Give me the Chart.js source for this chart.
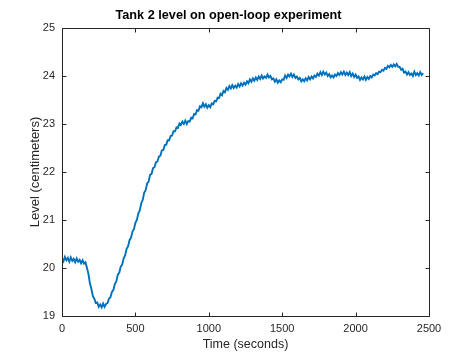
<!DOCTYPE html>
<html>
<head>
<meta charset="utf-8">
<script src="https://cdn.jsdelivr.net/npm/chart.js@4/dist/chart.umd.min.js"></script>
<style>
  html, body { margin: 0; padding: 0; background: #fff; }
  #wrap { width: 474px; height: 355px; position: relative; }
</style>
</head>
<body>
<div id="wrap"><canvas id="c" width="474" height="355"></canvas></div>
<script>
// ---- Data ----
const chartTitle = 'Tank 2 level on open-loop experiment';
const xAxisLabel = 'Time (seconds)';
const yAxisLabel = 'Level (centimeters)';

const timeSeconds = [
  0, 10, 20, 30, 40, 50, 60, 70, 80, 90, 100, 110, 120, 130, 140, 150, 160, 170, 180, 190,
  200, 210, 220, 230, 240, 250, 260, 270, 280, 290, 300, 310, 320, 330, 340, 350, 360, 370, 380, 390,
  400, 410, 420, 430, 440, 450, 460, 470, 480, 490, 500, 510, 520, 530, 540, 550, 560, 570, 580, 590,
  600, 610, 620, 630, 640, 650, 660, 670, 680, 690, 700, 710, 720, 730, 740, 750, 760, 770, 780, 790,
  800, 810, 820, 830, 840, 850, 860, 870, 880, 890, 900, 910, 920, 930, 940, 950, 960, 970, 980, 990,
  1000, 1010, 1020, 1030, 1040, 1050, 1060, 1070, 1080, 1090, 1100, 1110, 1120, 1130, 1140, 1150, 1160, 1170, 1180, 1190,
  1200, 1210, 1220, 1230, 1240, 1250, 1260, 1270, 1280, 1290, 1300, 1310, 1320, 1330, 1340, 1350, 1360, 1370, 1380, 1390,
  1400, 1410, 1420, 1430, 1440, 1450, 1460, 1470, 1480, 1490, 1500, 1510, 1520, 1530, 1540, 1550, 1560, 1570, 1580, 1590,
  1600, 1610, 1620, 1630, 1640, 1650, 1660, 1670, 1680, 1690, 1700, 1710, 1720, 1730, 1740, 1750, 1760, 1770, 1780, 1790,
  1800, 1810, 1820, 1830, 1840, 1850, 1860, 1870, 1880, 1890, 1900, 1910, 1920, 1930, 1940, 1950, 1960, 1970, 1980, 1990,
  2000, 2010, 2020, 2030, 2040, 2050, 2060, 2070, 2080, 2090, 2100, 2110, 2120, 2130, 2140, 2150, 2160, 2170, 2180, 2190,
  2200, 2210, 2220, 2230, 2240, 2250, 2260, 2270, 2280, 2290, 2300, 2310, 2320, 2330, 2340, 2350, 2360, 2370, 2380, 2390,
  2400, 2410, 2420, 2430, 2440, 2450, 2460
];

const levelCm = [
  20.20, 20.14, 20.23, 20.16, 20.21, 20.13, 20.22, 20.15, 20.19, 20.12, 20.20, 20.13, 20.17, 20.10, 20.16, 20.09, 20.12, 20.00, 19.88, 19.68,
  19.57, 19.42, 19.36, 19.27, 19.28, 19.19, 19.24, 19.18, 19.26, 19.19, 19.25, 19.27, 19.36, 19.39, 19.50, 19.54, 19.67, 19.72, 19.86, 19.90,
  20.03, 20.07, 20.20, 20.26, 20.40, 20.45, 20.58, 20.63, 20.76, 20.81, 20.94, 21.00, 21.14, 21.20, 21.35, 21.42, 21.57, 21.62, 21.76, 21.80,
  21.94, 21.96, 22.08, 22.10, 22.20, 22.22, 22.32, 22.34, 22.45, 22.46, 22.56, 22.57, 22.66, 22.66, 22.75, 22.76, 22.85, 22.85, 22.93, 22.92,
  23.01, 22.98, 23.05, 23.00, 23.07, 23.00, 23.06, 23.05, 23.13, 23.12, 23.21, 23.20, 23.29, 23.28, 23.37, 23.35, 23.43, 23.36, 23.41, 23.34,
  23.39, 23.35, 23.43, 23.41, 23.48, 23.47, 23.55, 23.54, 23.63, 23.60, 23.69, 23.66, 23.75, 23.71, 23.79, 23.74, 23.81, 23.75, 23.80, 23.76,
  23.83, 23.78, 23.85, 23.80, 23.86, 23.82, 23.89, 23.85, 23.93, 23.88, 23.95, 23.90, 23.97, 23.92, 23.99, 23.94, 24.01, 23.95, 23.99, 23.96,
  24.03, 23.97, 24.00, 23.93, 23.95, 23.88, 23.93, 23.86, 23.91, 23.87, 23.93, 23.92, 24.01, 23.96, 24.03, 23.99, 24.05, 23.98, 24.03, 23.96,
  23.99, 23.93, 23.96, 23.89, 23.93, 23.89, 23.95, 23.91, 23.98, 23.93, 23.99, 23.95, 24.01, 23.98, 24.05, 24.01, 24.08, 24.02, 24.09, 24.03,
  24.07, 24.00, 24.04, 23.97, 24.01, 23.97, 24.03, 24.00, 24.06, 24.02, 24.08, 24.03, 24.09, 24.02, 24.07, 24.02, 24.08, 24.00, 24.05, 23.98,
  24.03, 23.96, 23.99, 23.92, 23.97, 23.93, 23.99, 23.92, 23.98, 23.94, 24.00, 23.97, 24.03, 24.01, 24.06, 24.04, 24.09, 24.08, 24.13, 24.11,
  24.17, 24.15, 24.21, 24.18, 24.23, 24.19, 24.24, 24.20, 24.25, 24.19, 24.19, 24.13, 24.15, 24.07, 24.09, 24.03, 24.08, 24.02, 24.05, 24.00,
  24.09, 24.02, 24.06, 24.01, 24.08, 24.02, 24.06
];

const xTickValues = [0, 500, 1000, 1500, 2000, 2500];
const yTickValues = [19, 20, 21, 22, 23, 24, 25];

// ---- Styling ----
const FONT = '"Liberation Sans", Arial, Helvetica, sans-serif';
const AXIS_COLOR = '#262626';
const LINE_COLOR = '#0072BD';

const points = timeSeconds.map((t, i) => ({ x: t, y: levelCm[i] }));

// Box + inward tick marks (MATLAB style), positioned through the chart's scales
const boxPlugin = {
  id: 'matlabBox',
  afterDatasetsDraw(chart) {
    const { ctx, chartArea: a, scales } = chart;
    const xs = scales.x, ys = scales.y;
    const tl = 4;
    const snap = v => Math.round(v) + 0.5;
    ctx.save();
    ctx.strokeStyle = AXIS_COLOR;
    ctx.lineWidth = 1;
    const L = snap(a.left), R = snap(a.right), T = snap(a.top), B = snap(a.bottom);
    ctx.beginPath();
    ctx.rect(L, T, R - L, B - T);
    ctx.stroke();
    ctx.beginPath();
    xTickValues.forEach(v => {
      const px = snap(xs.getPixelForValue(v));
      ctx.moveTo(px, B); ctx.lineTo(px, B - tl);
      ctx.moveTo(px, T); ctx.lineTo(px, T + tl);
    });
    yTickValues.forEach(v => {
      const py = snap(ys.getPixelForValue(v));
      ctx.moveTo(L, py); ctx.lineTo(L + tl, py);
      ctx.moveTo(R, py); ctx.lineTo(R - tl, py);
    });
    ctx.stroke();
    ctx.restore();
  }
};

new Chart(document.getElementById('c'), {
  type: 'line',
  data: {
    datasets: [{
      data: points,
      borderColor: LINE_COLOR,
      borderWidth: 1.9,
      pointRadius: 0,
      tension: 0,
      fill: false
    }]
  },
  options: {
    responsive: false,
    animation: false,
    layout: { padding: { left: 28, right: 45, top: 0, bottom: 0 } },
    plugins: {
      legend: { display: false },
      tooltip: { enabled: false },
      title: {
        display: true,
        text: chartTitle,
        color: '#000',
        font: { family: FONT, size: 12.7, weight: 'bold', lineHeight: 1.2 },
        padding: { top: 7.4, bottom: 5.36 }
      }
    },
    scales: {
      x: {
        type: 'linear',
        min: 0, max: 2500,
        afterBuildTicks: s => { s.ticks = xTickValues.map(v => ({ value: v })); },
        afterFit: s => { s.height = 39; },
        grid: { display: false, drawTicks: false },
        border: { display: false },
        ticks: {
          color: AXIS_COLOR, padding: 6, maxRotation: 0,
          font: { family: FONT, size: 11 },
          callback: v => String(v)
        },
        title: {
          display: true, text: xAxisLabel, color: AXIS_COLOR,
          font: { family: FONT, size: 12.5 },
          padding: { top: 0, bottom: 3 }
        }
      },
      y: {
        type: 'linear',
        min: 19, max: 25,
        afterBuildTicks: s => { s.ticks = yTickValues.map(v => ({ value: v })); },
        afterFit: s => { s.width = 34; },
        grid: { display: false, drawTicks: false },
        border: { display: false },
        ticks: {
          color: AXIS_COLOR, padding: 7,
          font: { family: FONT, size: 11 },
          callback: v => String(v)
        },
        title: {
          display: true, text: yAxisLabel, color: AXIS_COLOR,
          font: { family: FONT, size: 13 },
          padding: { top: 0, bottom: 0 }
        }
      }
    }
  },
  plugins: [boxPlugin]
});
</script>
</body>
</html>
